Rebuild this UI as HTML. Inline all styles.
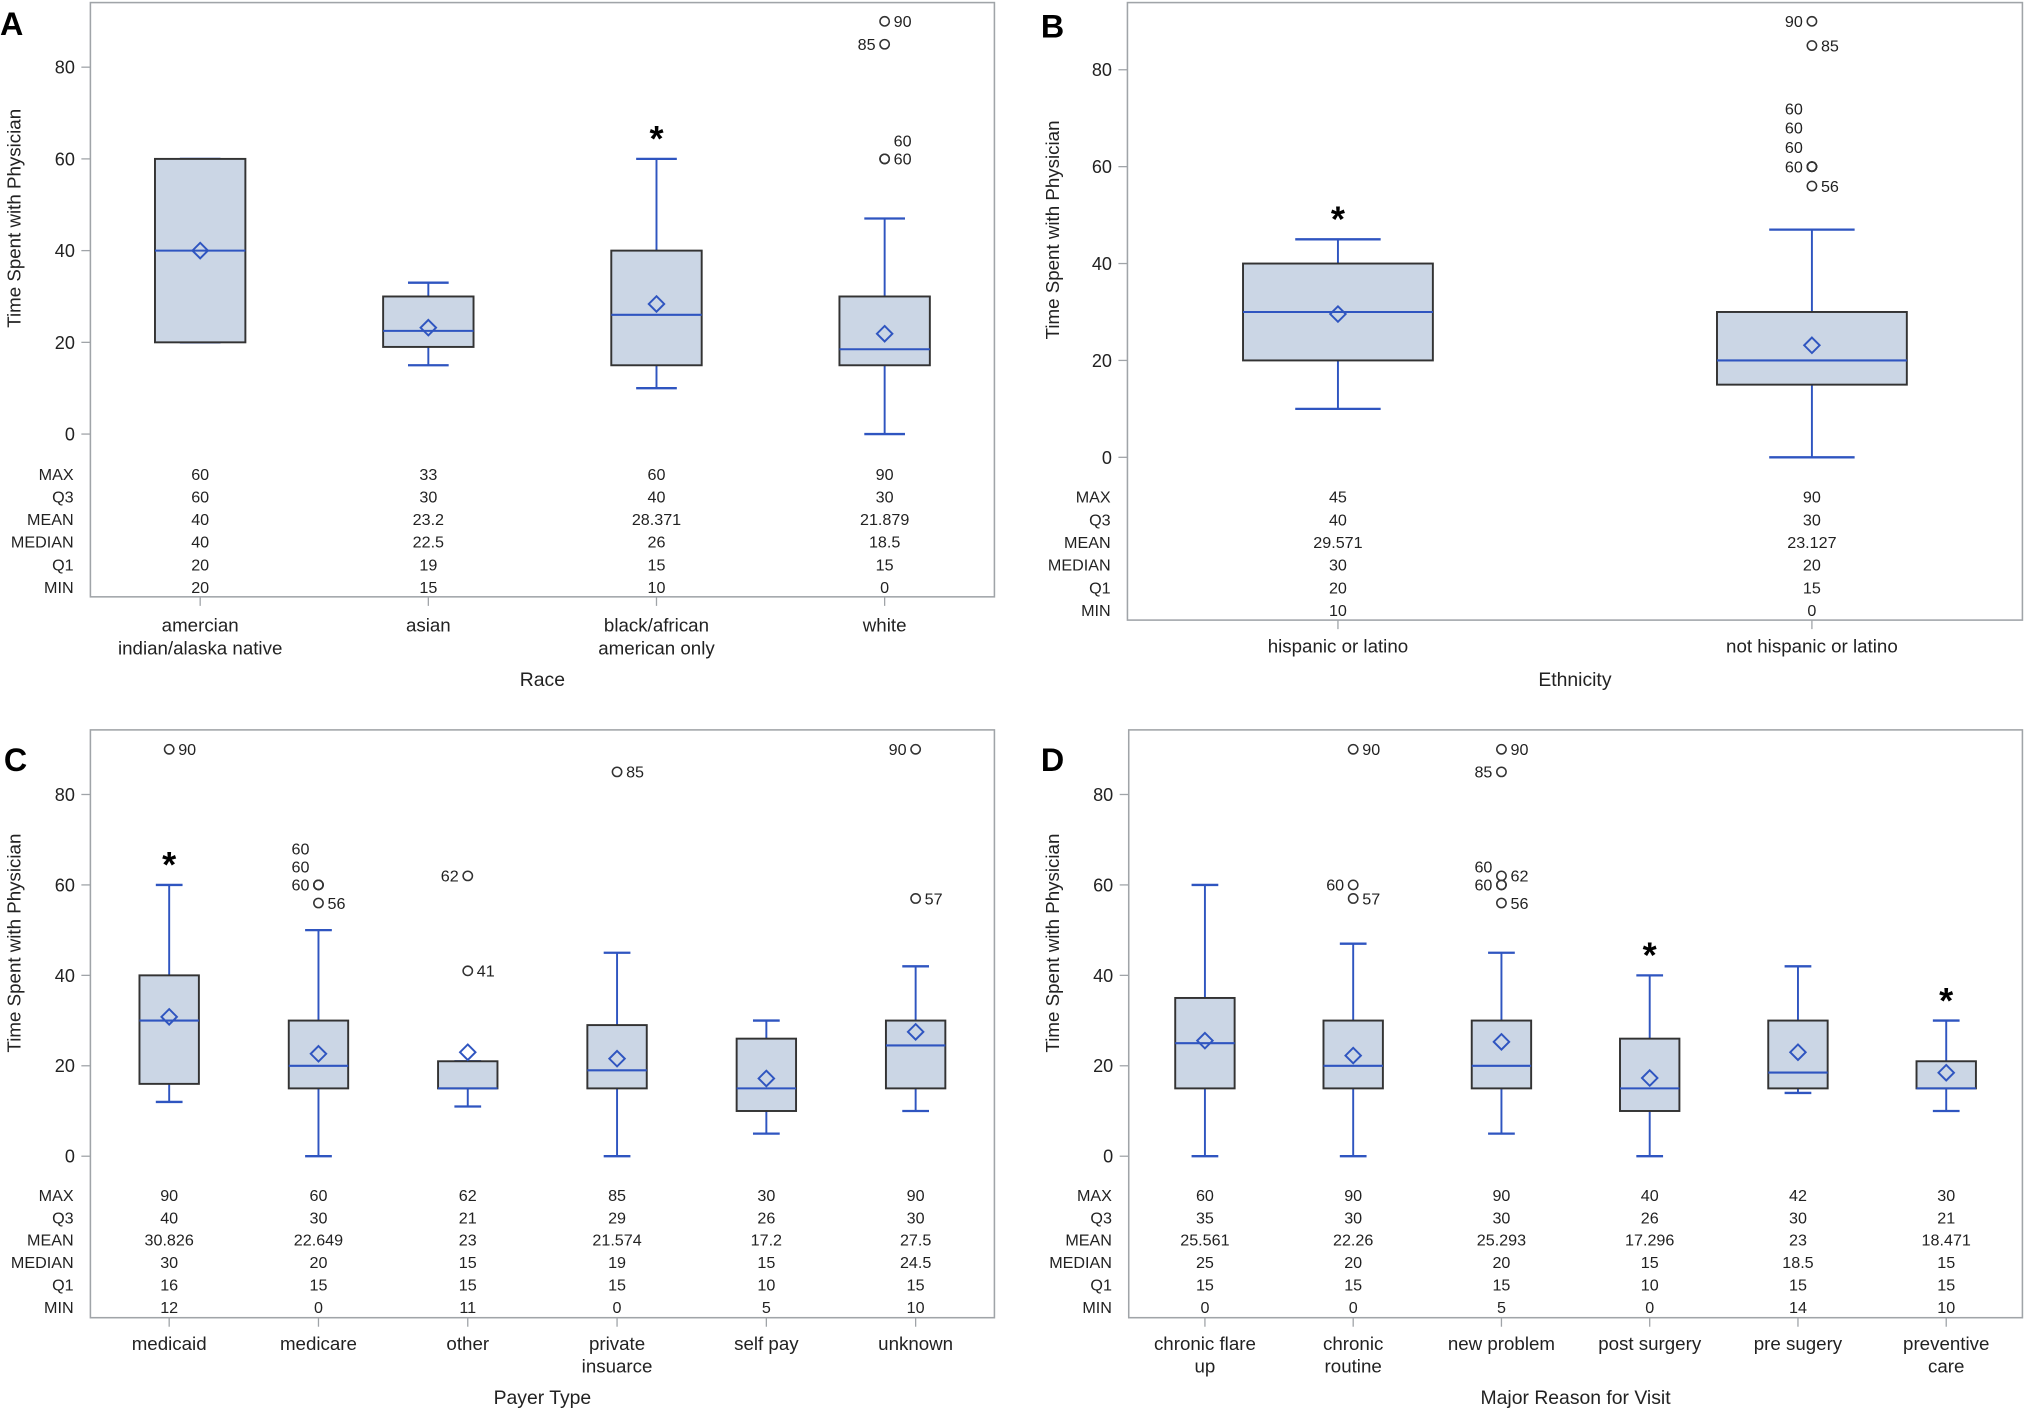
<!DOCTYPE html>
<html><head><meta charset="utf-8"><style>
html,body{margin:0;padding:0;background:#fff;}
svg{display:block;}
text{font-family:"Liberation Sans Narrow","Liberation Sans",sans-serif;fill:#222;}
</style></head><body>
<svg id="chart" width="2025" height="1412" viewBox="0 0 1568 1093" preserveAspectRatio="none" xmlns="http://www.w3.org/2000/svg"></svg>
<script>
// ---- Panel A: Race ----
const catsA = [["amercian","indian/alaska native"],["asian"],["black/african","american only"],["white"]];
const minA = [20,15,10,0];
const q1A = [20,19,15,15];
const medA = [40,22.5,26,18.5];
const q3A = [60,30,40,30];
const hiA = [60,33,60,47];
const meanA = [40,23.2,28.371,21.879];
const statsA = [["60","60","40","40","20","20"],["33","30","23.2","22.5","19","15"],["60","40","28.371","26","15","10"],["90","30","21.879","18.5","15","0"]];
const outA = [[],[],[],[[90,"90","r",90],[85,"85","l",85],[60,"60","r",60],[60,"60","r",64]]];
const starA = [false,false,true,false];

// ---- Panel B: Ethnicity ----
const catsB = [["hispanic or latino"],["not hispanic or latino"]];
const minB = [10,0];
const q1B = [20,15];
const medB = [30,20];
const q3B = [40,30];
const hiB = [45,47];
const meanB = [29.571,23.127];
const statsB = [["45","40","29.571","30","20","10"],["90","30","23.127","20","15","0"]];
const outB = [[],[[90,"90","l",90],[85,"85","r",85],[60,"60","l",60],[60,"60","l",64],[60,"60","l",68],[60,"60","l",72],[56,"56","r",56]]];
const starB = [true,false];

// ---- Panel C: Payer Type ----
const catsC = [["medicaid"],["medicare"],["other"],["private","insuarce"],["self pay"],["unknown"]];
const minC = [12,0,11,0,5,10];
const q1C = [16,15,15,15,10,15];
const medC = [30,20,15,19,15,24.5];
const q3C = [40,30,21,29,26,30];
const hiC = [60,50,21,45,30,42];
const meanC = [30.826,22.649,23,21.574,17.2,27.5];
const statsC = [["90","40","30.826","30","16","12"],["60","30","22.649","20","15","0"],["62","21","23","15","15","11"],["85","29","21.574","19","15","0"],["30","26","17.2","15","10","5"],["90","30","27.5","24.5","15","10"]];
const outC = [[[90,"90","r",90]],[[60,"60","l",60],[60,"60","l",64],[60,"60","l",68],[56,"56","r",56]],[[62,"62","l",62],[41,"41","r",41]],[[85,"85","r",85]],[],[[90,"90","l",90],[57,"57","r",57]]];
const starC = [true,false,false,false,false,false];

// ---- Panel D: Major Reason for Visit ----
const catsD = [["chronic flare","up"],["chronic","routine"],["new problem"],["post surgery"],["pre sugery"],["preventive","care"]];
const minD = [0,0,5,0,14,10];
const q1D = [15,15,15,10,15,15];
const medD = [25,20,20,15,18.5,15];
const q3D = [35,30,30,26,30,21];
const hiD = [60,47,45,40,42,30];
const meanD = [25.561,22.26,25.293,17.296,23,18.471];
const statsD = [["60","35","25.561","25","15","0"],["90","30","22.26","20","15","0"],["90","30","25.293","20","15","5"],["40","26","17.296","15","10","0"],["42","30","23","18.5","15","14"],["30","21","18.471","15","15","10"]];
const outD = [[],[[90,"90","r",90],[60,"60","l",60],[57,"57","r",57]],[[90,"90","r",90],[85,"85","l",85],[62,"62","r",62],[60,"60","l",60],[60,"60","l",64],[56,"56","r",56]],[],[],[]];
const starD = [false,false,false,true,false,true];

const statNames = ["MAX","Q3","MEAN","MEDIAN","Q1","MIN"];
const yTicks = [0,20,40,60,80];

const NS = "http://www.w3.org/2000/svg";
const svg = document.getElementById("chart");
function el(tag, attrs, parent, txt){
  const e = document.createElementNS(NS, tag);
  for (const k in attrs) e.setAttribute(k, attrs[k]);
  if (txt !== undefined) e.textContent = txt;
  (parent || svg).appendChild(e);
  return e;
}

function panel(cfg){
  const g = el("g", {});
  
  
  const [fx0, fy0, fx1, fy1] = cfg.frame;
  const y = v => cfg.y0 - v * (cfg.y0 - cfg.y80) / 80;
  const n = cfg.cats.length;
  const step = (fx1 - fx0 - 2 * cfg.pad) / (n - 1);
  const x = i => fx0 + cfg.pad + step * i;
  const bw = cfg.bw, cap = bw * 0.45;

  const fr = el("rect", {x:fx0, y:fy0, width:fx1-fx0, height:fy1-fy0, fill:"none", stroke:"#a0a4a8", "stroke-width":1.2}, g);
  
  

  const lt = el("text", {x:cfg.letter[0], y:cfg.letter[1], "font-size":25, "font-weight":"bold", style:"font-family:'Liberation Sans',sans-serif;fill:#000"}, g, cfg.letterText);
  
  

  yTicks.forEach(t => {
    el("line", {x1:fx0-7, x2:fx0, y1:y(t), y2:y(t), stroke:"#a0a4a8", "stroke-width":1}, g);
    const tl = el("text", {x:fx0-12, y:y(t)+5, "font-size":14, "text-anchor":"end"}, g, String(t));
    
    
  });

  const yt = el("text", {transform:`translate(${cfg.ytitleX},${(fy0 + cfg.y0)/2}) rotate(-90)`, "font-size":14.5, "text-anchor":"middle", style:"font-family:'Liberation Sans',sans-serif"}, g, "Time Spent with Physician");
  
  

  statNames.forEach((s, r) => {
    const sl = el("text", {x:fx0-13, y:cfg.sy + r*cfg.sstep + 4.5, "font-size":12.5, "text-anchor":"end"}, g, s);
    
    
  });

  for (let i = 0; i < n; i++){
    const cx = x(i);
    const bg = el("g", {}, g);
    
    
    const blue = "#2f55c0";
    el("line", {x1:cx, x2:cx, y1:y(cfg.hi[i]), y2:y(cfg.q3[i]), stroke:blue, "stroke-width":1.5}, bg);
    el("line", {x1:cx, x2:cx, y1:y(cfg.q1[i]), y2:y(cfg.min[i]), stroke:blue, "stroke-width":1.5}, bg);
    el("line", {x1:cx-cap/2, x2:cx+cap/2, y1:y(cfg.hi[i]), y2:y(cfg.hi[i]), stroke:blue, "stroke-width":1.8}, bg);
    el("line", {x1:cx-cap/2, x2:cx+cap/2, y1:y(cfg.min[i]), y2:y(cfg.min[i]), stroke:blue, "stroke-width":1.8}, bg);
    el("rect", {x:cx-bw/2, y:y(cfg.q3[i]), width:bw, height:Math.max(0.5, y(cfg.q1[i])-y(cfg.q3[i])), fill:"#cbd6e5", stroke:"#333", "stroke-width":1.5}, bg);
    el("line", {x1:cx-bw/2, x2:cx+bw/2, y1:y(cfg.med[i]), y2:y(cfg.med[i]), stroke:blue, "stroke-width":1.6}, bg);
    const my = y(cfg.mean[i]), d = 6;
    el("polygon", {points:`${cx},${my-d} ${cx+d},${my} ${cx},${my+d} ${cx-d},${my}`, fill:"none", stroke:blue, "stroke-width":1.5}, bg);
    cfg.out[i].forEach(o => {
      const oc = el("circle", {cx:cx, cy:y(o[0]), r:3.6, fill:"none", stroke:"#333", "stroke-width":1.2}, bg);
      
      
      const lx = o[2] === "r" ? cx + 7 : cx - 7;
      const ol = el("text", {x:lx, y:y(o[3]) + 4.5, "font-size":12.5, "text-anchor": o[2] === "r" ? "start" : "end"}, bg, o[1]);
      
      
    });
    if (cfg.star[i]){
      const st = el("text", {x:cx, y:y(cfg.hi[i]) - 6, "font-size":28, "text-anchor":"middle", "font-weight":"bold", style:"font-family:'Liberation Sans',sans-serif;fill:#000"}, bg, "*");
      
      
    }
    cfg.stats[i].forEach((v, r) => {
      const sv = el("text", {x:cx, y:cfg.sy + r*cfg.sstep + 4.5, "font-size":12.5, "text-anchor":"middle"}, g, v);
      
      
    });
    el("line", {x1:cx, x2:cx, y1:fy1, y2:fy1+7, stroke:"#a0a4a8", "stroke-width":1}, g);
    cfg.cats[i].forEach((ln, k) => {
      const cl = el("text", {x:cx, y:cfg.cy + k*17.5, "font-size":14.5, "text-anchor":"middle"}, g, ln);
      
      
    });
  }
  const xt = el("text", {x:(fx0+fx1)/2, y:cfg.ty, "font-size":15, "text-anchor":"middle"}, g, cfg.title);
  
  
}

panel({name:"panel-a-race", letterText:"A", letter:[0,27], frame:[70,2,770,462], y0:336, y80:52, bw:70, pad:85,
  cats:catsA, min:minA, q1:q1A, med:medA, q3:q3A, hi:hiA, mean:meanA, stats:statsA, out:outA, star:starA,
  sy:367, sstep:17.5, cy:489, ty:531, title:"Race", ytitleX:16});
panel({name:"panel-b-ethnicity", letterText:"B", letter:[806,29], frame:[873,2,1566,480], y0:354, y80:54, bw:147, pad:163,
  cats:catsB, min:minB, q1:q1B, med:medB, q3:q3B, hi:hiB, mean:meanB, stats:statsB, out:outB, star:starB,
  sy:384.5, sstep:17.6, cy:505, ty:531, title:"Ethnicity", ytitleX:820});
panel({name:"panel-c-payer-type", letterText:"C", letter:[3,597], frame:[70,565,770,1020], y0:895, y80:615, bw:46, pad:61,
  cats:catsC, min:minC, q1:q1C, med:medC, q3:q3C, hi:hiC, mean:meanC, stats:statsC, out:outC, star:starC,
  sy:925, sstep:17.4, cy:1045, ty:1087, title:"Payer Type", ytitleX:16});
panel({name:"panel-d-visit-reason", letterText:"D", letter:[806,597], frame:[874,565,1566,1020], y0:895, y80:615, bw:46, pad:59,
  cats:catsD, min:minD, q1:q1D, med:medD, q3:q3D, hi:hiD, mean:meanD, stats:statsD, out:outD, star:starD,
  sy:925, sstep:17.4, cy:1045, ty:1087, title:"Major Reason for Visit", ytitleX:820});
</script>
</body></html>
